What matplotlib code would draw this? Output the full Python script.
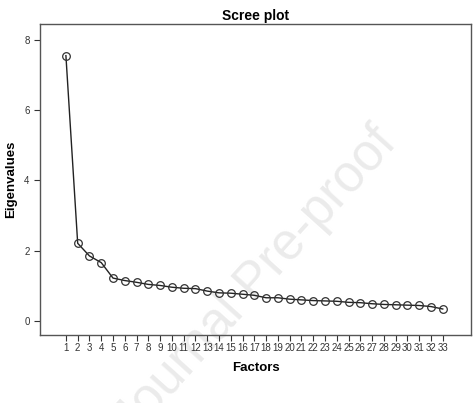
import matplotlib
matplotlib.use('agg')
import matplotlib.pyplot as plt

plt.rcParams['font.family'] = ['Liberation Sans', 'DejaVu Sans']

factors = list(range(1, 34))
eigenvalues = [7.55, 2.21, 1.85, 1.66, 1.22, 1.15, 1.10, 1.04, 1.01, 0.96,
               0.93, 0.92, 0.85, 0.80, 0.79, 0.76, 0.73, 0.66, 0.66, 0.62,
               0.60, 0.58, 0.57, 0.56, 0.53, 0.52, 0.49, 0.47, 0.46, 0.45,
               0.44, 0.41, 0.34]
y_ticks = [0, 2, 4, 6, 8]

fig = plt.figure(figsize=(4.74, 4.03), dpi=100)
ax = fig.add_axes([0.0844, 0.1687, 0.9093, 0.7717])

# faint watermark, drawn behind the axes
fig.text(0.54, 0.30, 'Journal Pre-proof', fontsize=37, color='#ebebeb',
         rotation=48, ha='center', va='center', zorder=-1)

ax.plot(factors, eigenvalues, color='#222222', linewidth=1.0,
        marker='o', markersize=5.5, markerfacecolor='none',
        markeredgecolor='#333333', markeredgewidth=0.9)

ax.set_xlim(-1.2, 35.4)
ax.set_ylim(-0.4, 8.45)
ax.set_xticks(factors)
ax.set_xticklabels([str(f) for f in factors])
ax.set_yticks(y_ticks)
ax.patch.set_alpha(0)

for s in ax.spines.values():
    s.set_color('#555555')
    s.set_linewidth(1.0)

ax.tick_params(axis='both', labelsize=7, colors='#333333', length=4, width=0.8)
ax.tick_params(axis='x', pad=2)

ax.set_title('Scree plot', fontsize=10, fontweight='bold', pad=3)
ax.set_xlabel('Factors', fontsize=9.5, fontweight='bold', labelpad=6)
ax.set_ylabel('Eigenvalues', fontsize=9.5, fontweight='bold')
ax.yaxis.set_label_coords(-0.053, 0.5)

fig.savefig('out.png', dpi=100)
